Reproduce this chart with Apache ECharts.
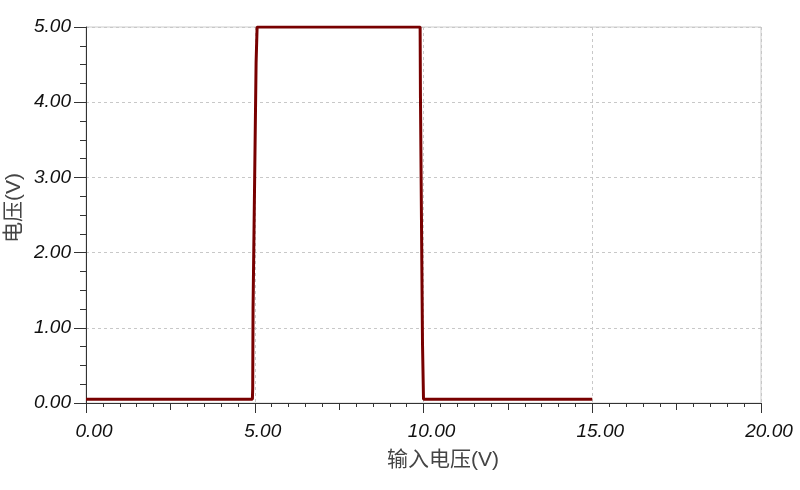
<!DOCTYPE html>
<html><head><meta charset="utf-8">
<script src="https://cdn.jsdelivr.net/npm/echarts@6/dist/echarts.min.js"></script>
<style>html,body{margin:0;padding:0;background:#fff}#c{width:800px;height:490px}</style>
</head><body><div id="c"></div>
<script>
const inputVoltage = [0, 4.93, 4.94, 4.95, 4.98, 5.01, 5.04, 5.07, 9.90, 9.91, 9.93, 9.95, 9.97, 10.00, 15.00];
const outputVoltage = [0.05, 0.05, 0.2, 1.27, 2.36, 3.45, 4.53, 5.00, 5.00, 4.06, 2.97, 1.88, 0.80, 0.05, 0.05];
const xTicks = [0, 5, 10, 15, 20];
const yTicks = [0, 1, 2, 3, 4, 5];
const xName = '输入电压(V)';
const yName = '电压(V)';

const chart = echarts.init(document.getElementById('c'), null, {renderer: 'canvas'});
const labelStyle = {fontFamily: 'Liberation Sans, Arial, sans-serif', fontStyle: 'italic', fontSize: 19, color: '#111'};
const nameFont = {fontFamily: 'Liberation Sans, Noto Sans CJK SC, sans-serif', fontSize: 21, color: '#444'};
chart.setOption({
  animation: false,
  grid: {left: 86, right: 39, top: 27, bottom: 87, containLabel: false, outerBoundsMode: 'none',
         show: true, borderColor: '#cccccc', borderWidth: 1},
  xAxis: [{
    type: 'value', min: xTicks[0], max: xTicks[xTicks.length - 1], interval: 5,
    name: xName, nameLocation: 'middle', nameGap: 47, nameMoveOverlap: false,
    nameTextStyle: Object.assign({padding: [0, 0, 0, 39]}, nameFont),
    axisLine: {show: true, onZero: false, lineStyle: {color: '#333', width: 1}},
    axisTick: {show: true, length: 10, lineStyle: {color: '#333'}},
    minorTick: {show: true, splitNumber: 10, length: 4, lineStyle: {color: '#333'}},
    axisLabel: Object.assign({margin: 19, padding: [0, 0, 0, 16], formatter: v => v.toFixed(2)}, labelStyle),
    splitLine: {show: true, lineStyle: {color: '#c8c8c8', type: [3, 3], width: 1}}
  }, {
    type: 'value', min: 0, max: 20, interval: 2.5, position: 'bottom',
    axisLine: {show: false, onZero: false}, axisTick: {show: true, length: 7, lineStyle: {color: '#333'}},
    axisLabel: {show: false}, splitLine: {show: false}
  }],
  yAxis: {
    type: 'value', min: yTicks[0], max: yTicks[yTicks.length - 1], interval: 1,
    name: yName, nameLocation: 'middle', nameGap: 61, nameRotate: 90, nameMoveOverlap: false,
    nameTextStyle: Object.assign({padding: [0, 0, 0, 14]}, nameFont),
    axisLine: {show: true, onZero: false, lineStyle: {color: '#333', width: 1}},
    axisTick: {show: true, length: 12, lineStyle: {color: '#333'}},
    minorTick: {show: true, splitNumber: 4, length: 6, lineStyle: {color: '#333'}},
    axisLabel: Object.assign({margin: 15, formatter: v => v.toFixed(2)}, labelStyle),
    splitLine: {show: true, lineStyle: {color: '#c8c8c8', type: [3, 3], width: 1}}
  },
  series: [{
    type: 'line', xAxisIndex: 0, showSymbol: false, symbol: 'none',
    data: inputVoltage.map((x, i) => [x, outputVoltage[i]]),
    lineStyle: {color: '#780000', width: 3}
  }]
});
</script></body></html>
